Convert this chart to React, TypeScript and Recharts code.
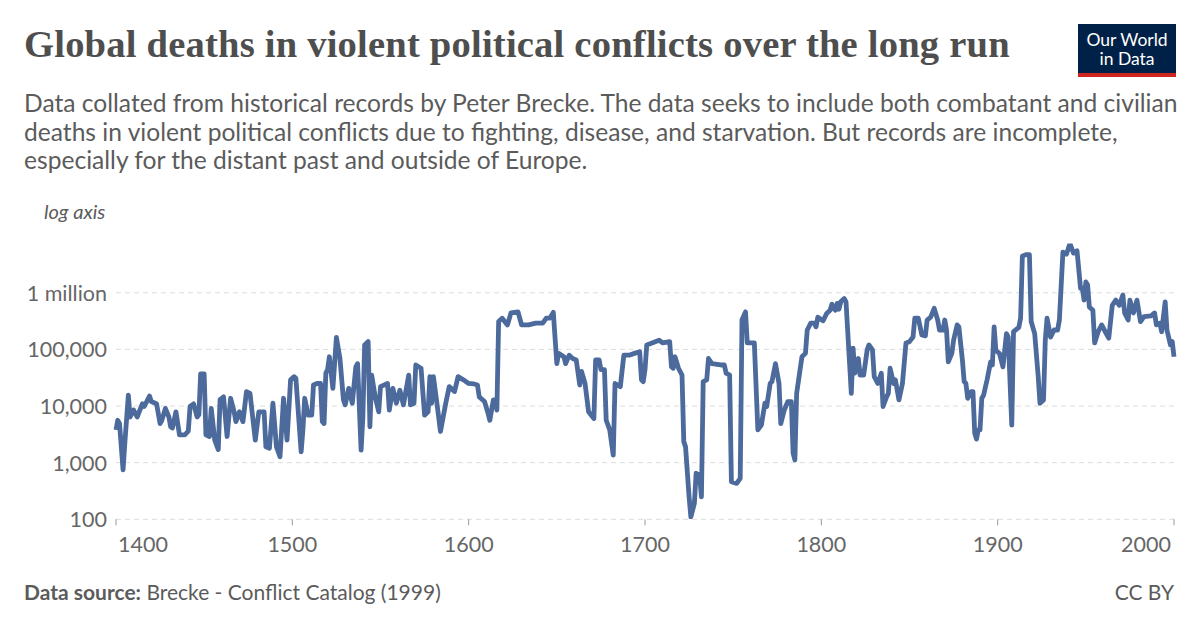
import React from 'react';
import { LineChart, Line, XAxis, YAxis, ReferenceLine } from 'recharts';

// Brecke conflict catalog, deaths per year
const years: number[] = [
  1400, 1401, 1402, 1404, 1405, 1407, 1408, 1410, 1412, 1415, 1416, 1419, 1420, 1423, 1425, 1426, 1428, 1430, 1431, 1432,
  1434, 1436, 1439, 1441, 1442, 1444, 1446, 1447, 1448, 1450, 1451, 1453, 1454, 1456, 1458, 1459, 1461, 1463, 1465, 1467,
  1468, 1470, 1472, 1474, 1476, 1479, 1481, 1484, 1485, 1487, 1489, 1491, 1493, 1495, 1497, 1499, 1501, 1502, 1505, 1506,
  1507, 1509, 1511, 1512, 1514, 1516, 1517, 1518, 1519, 1520, 1521, 1523, 1525, 1527, 1529, 1530, 1532, 1534, 1536, 1537,
  1539, 1540, 1541, 1543, 1544, 1545, 1547, 1549, 1550, 1554, 1555, 1557, 1559, 1561, 1563, 1566, 1567, 1569, 1570, 1573,
  1575, 1577, 1578, 1579, 1580, 1582, 1584, 1587, 1589, 1592, 1594, 1597, 1600, 1603, 1605, 1606, 1609, 1611, 1612, 1614,
  1615, 1616, 1617, 1619, 1622, 1624, 1628, 1630, 1634, 1638, 1642, 1644, 1646, 1648, 1650, 1651, 1654, 1655, 1657, 1659,
  1661, 1663, 1664, 1666, 1668, 1671, 1672, 1674, 1675, 1677, 1678, 1680, 1682, 1683, 1686, 1688, 1691, 1694, 1697, 1698,
  1699, 1700, 1701, 1704, 1708, 1710, 1714, 1715, 1716, 1717, 1719, 1721, 1722, 1723, 1725, 1726, 1728, 1729, 1731, 1732,
  1733, 1735, 1736, 1738, 1743, 1745, 1746, 1748, 1749, 1752, 1754, 1755, 1757, 1758, 1762, 1764, 1766, 1768, 1769, 1771,
  1772, 1774, 1776, 1777, 1779, 1781, 1783, 1784, 1785, 1786, 1789, 1791, 1792, 1794, 1796, 1797, 1798, 1801, 1803, 1805,
  1806, 1808, 1809, 1810, 1811, 1813, 1814, 1817, 1818, 1819, 1821, 1822, 1824, 1826, 1827, 1829, 1830, 1832, 1834, 1835,
  1837, 1838, 1839, 1841, 1842, 1844, 1846, 1848, 1850, 1852, 1853, 1855, 1857, 1859, 1860, 1862, 1864, 1866, 1867, 1869,
  1870, 1871, 1872, 1874, 1875, 1877, 1878, 1880, 1881, 1882, 1883, 1885, 1886, 1887, 1888, 1889, 1890, 1891, 1892, 1894,
  1896, 1897, 1898, 1899, 1901, 1903, 1905, 1906, 1908, 1909, 1912, 1913, 1914, 1916, 1918, 1919, 1921, 1923, 1924, 1926,
  1927, 1928, 1930, 1932, 1934, 1935, 1937, 1939, 1941, 1943, 1945, 1947, 1948, 1949, 1950, 1951, 1952, 1954, 1955, 1957,
  1959, 1961, 1963, 1965, 1967, 1969, 1971, 1972, 1974, 1975, 1977, 1979, 1981, 1983, 1987, 1989, 1990, 1992, 1993, 1995,
  1996, 1998, 1999, 2000,
];

const deaths: number[] = [
  3800, 5600, 4900, 750, 2200, 15500, 6400, 8500, 6400, 11000, 9800, 15000, 12000, 11000, 4900, 5600, 9100, 6400, 4300, 4100,
  7900, 3100, 3100, 3600, 9800, 10900, 6400, 7000, 37000, 37000, 3100, 2900, 9100, 2500, 1700, 13000, 14500, 2900, 13700, 7900,
  5300, 7900, 5300, 18000, 16700, 2500, 7900, 7900, 1900, 1800, 11200, 1900, 1270, 13700, 2500, 29000, 33000, 31000, 1550, 3800,
  13700, 6900, 6900, 23500, 25000, 25000, 5300, 4900, 38000, 44000, 74000, 20500, 162000, 69000, 12800, 10500, 20500, 11200, 49000, 56000,
  1670, 6400, 120000, 137000, 4300, 35000, 14500, 7900, 22000, 25000, 8500, 20500, 11200, 19000, 10500, 35000, 10500, 11200, 53000, 46500,
  6900, 7900, 33000, 11200, 33000, 11200, 3550, 11200, 22000, 18000, 33000, 29000, 25000, 24500, 23500, 14500, 12000, 7400, 5600, 12800,
  12800, 8500, 310000, 355000, 270000, 440000, 460000, 270000, 270000, 290000, 290000, 355000, 355000, 450000, 56000, 85000, 74000, 56000, 79000, 69000,
  65000, 23500, 41000, 25000, 7900, 6000, 65000, 65000, 44000, 44000, 5600, 3800, 1360, 25000, 22000, 79000, 79000, 85000, 91000, 29000,
  27000, 44000, 120000, 130000, 145000, 130000, 137000, 49000, 46500, 74000, 46500, 35000, 2350, 1900, 250, 110, 190, 650, 600, 250,
  27000, 29000, 69000, 56000, 53000, 53000, 38000, 35000, 460, 430, 530, 330000, 460000, 130000, 130000, 3800, 4600, 11200, 9800, 25000,
  27000, 56000, 25000, 4900, 8500, 12000, 12000, 1470, 1120, 16700, 74000, 85000, 220000, 290000, 290000, 250000, 370000, 320000, 430000, 490000,
  630000, 490000, 650000, 510000, 690000, 790000, 690000, 16700, 105000, 38000, 69000, 35000, 35000, 98000, 120000, 98000, 33000, 25000, 38000, 9800,
  14500, 16700, 46500, 25000, 29000, 12800, 25000, 130000, 137000, 165000, 355000, 355000, 180000, 173000, 330000, 370000, 530000, 330000, 220000, 220000,
  330000, 220000, 60000, 85000, 145000, 270000, 250000, 65000, 27000, 25000, 13700, 18000, 18000, 3300, 2600, 3800, 3800, 13700, 15500, 29000,
  60000, 53000, 250000, 95000, 85000, 49000, 190000, 165000, 4600, 205000, 245000, 355000, 4400000, 4700000, 4700000, 310000, 190000, 33000, 11200, 12800,
  145000, 355000, 165000, 220000, 220000, 330000, 5200000, 4800000, 7400000, 5000000, 5500000, 1200000, 1200000, 740000, 1550000, 1380000, 560000, 490000, 130000, 205000,
  270000, 205000, 158000, 600000, 740000, 600000, 910000, 440000, 330000, 740000, 440000, 740000, 310000, 380000, 390000, 440000, 270000, 290000, 205000, 690000,
  220000, 120000, 137000, 74000,
];

const xTicks = [1400, 1500, 1600, 1700, 1800, 1900, 2000];
const yTicks = [100, 1000, 10000, 100000, 1000000];
const yTickLabels = ['100', '1,000', '10,000', '100,000', '1 million'];

const data = years.map((year, i) => ({ year, deaths: deaths[i] }));
const maxDeaths = Math.max(...deaths);

const FONT = 'Lato, "Noto Sans", sans-serif';
const GREY = '#5b5b5b';

const XTick = (props: any) => {
  const { x, y, payload } = props;
  const v = payload.value;
  const first = v === xTicks[0];
  const last = v === xTicks[xTicks.length - 1];
  return (
    <text
      x={x + (first ? 2 : last ? -3 : 0)}
      y={y + 25}
      textAnchor={first ? 'start' : last ? 'end' : 'middle'}
      fill="#666"
      fontSize={21.5}
      fontFamily={FONT}
    >
      {v}
    </text>
  );
};

const YTick = (props: any) => {
  const { y, payload } = props;
  const idx = yTicks.indexOf(payload.value);
  if (idx < 0) return <g />;
  return (
    <text x={107} y={y + 8} textAnchor="end" fill="#666" fontSize={21.5} fontFamily={FONT}>
      {yTickLabels[idx]}
    </text>
  );
};

const App: React.FC = () => {
  return (
    <div style={{ position: 'absolute', left: 0, top: 0, width: 1200, height: 627, background: '#fff', fontFamily: FONT }}>
      <div
        style={{
          position: 'absolute', left: 24, top: 22, fontFamily: '"Liberation Serif", serif', fontWeight: 700,
          fontSize: 38.6, color: '#4e4e4e', letterSpacing: 0.2, whiteSpace: 'nowrap',
        }}
      >
        Global deaths in violent political conflicts over the long run
      </div>
      <div
        style={{
          position: 'absolute', left: 24, top: 89, width: 1170, fontSize: 24.6, lineHeight: '28.5px', color: GREY,
          whiteSpace: 'nowrap',
        }}
      >
        Data collated from historical records by Peter Brecke. The data seeks to include both combatant and civilian
        <br />
        deaths in violent political conflicts due to fighting, disease, and starvation. But records are incomplete,
        <br />
        especially for the distant past and outside of Europe.
      </div>
      <div style={{ position: 'absolute', left: 44, top: 198, fontSize: 20, lineHeight: '26px', fontStyle: 'italic', color: GREY }}>
        log axis
      </div>

      <div style={{ position: 'absolute', left: 1078, top: 24, width: 98, height: 53, background: '#002147' }}>
        <div style={{ position: 'absolute', left: 0, right: 0, bottom: 0, height: 4, background: '#ce261e' }} />
        <div style={{ color: '#fff', fontSize: 17.5, lineHeight: '19px', textAlign: 'center', paddingTop: 6 }}>
          Our World
          <br />
          in Data
        </div>
      </div>

      <div style={{ position: 'absolute', left: 0, top: 0 }}>
        <LineChart width={1200} height={627} data={data} margin={{ top: 243.5, right: 26, bottom: 77.7, left: 0 }}>
          <XAxis
            dataKey="year"
            type="number"
            domain={[1400, 2000]}
            ticks={xTicks}
            axisLine={false}
            tickLine={{ stroke: '#999' }}
            tickSize={6}
            height={30}
            tick={<XTick />}
            interval={0}
          />
          <YAxis
            scale="log"
            domain={[100, maxDeaths]}
            ticks={yTicks}
            axisLine={false}
            tickLine={false}
            width={116}
            tick={<YTick />}
            interval={0}
            allowDataOverflow
          />
          {yTicks.map((t) => (
            <ReferenceLine key={t} y={t} stroke="#dddddd" strokeDasharray="5 4" />
          ))}
          <Line
            type="linear"
            dataKey="deaths"
            stroke="#4c6a9c"
            strokeWidth={4.8}
            strokeLinejoin="round"
            dot={false}
            isAnimationActive={false}
          />
        </LineChart>
      </div>

      <div style={{ position: 'absolute', left: 24, top: 579, fontSize: 21, lineHeight: '26px', color: GREY }}>
        <b style={{ fontWeight: 700 }}>Data source:</b> Brecke - Conflict Catalog (1999)
      </div>
      <div style={{ position: 'absolute', right: 26, top: 579, fontSize: 21, lineHeight: '26px', color: GREY }}>CC BY</div>
    </div>
  );
};

export default App;
